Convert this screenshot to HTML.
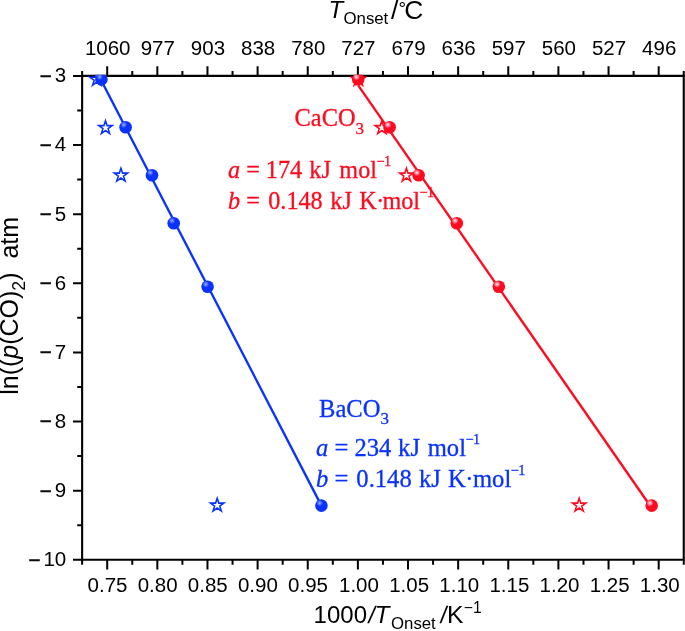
<!DOCTYPE html>
<html lang="en"><head><meta charset="utf-8"><title>Onset temperature chart</title>
<style>
html,body{margin:0;padding:0;background:#fff;}
body{width:685px;height:631px;overflow:hidden;}
svg{display:block;}
text{font-family:"Liberation Sans", Arial, Helvetica, sans-serif;fill:#000;white-space:pre;}
.tk{font-size:20.5px;}
.ti{font-size:24px;}
.sb{font-size:16.8px;}
.ser{font-family:"Liberation Serif", "Times New Roman", serif;font-size:24.6px;}
.it{font-style:italic;}
.r{font-size:24.2px;fill:#ff0a1e;stroke:#ff0a1e;stroke-width:0.3px;}
.b{fill:#0a32ff;stroke:#0a32ff;stroke-width:0.3px;}
</style></head><body>
<svg width="685" height="631" viewBox="0 0 685 631">
<defs>
<radialGradient id="gb" cx="0.36" cy="0.3" r="0.26"><stop offset="0" stop-color="#9fb0ff"/><stop offset="0.5" stop-color="#5570ff"/><stop offset="1" stop-color="#0a32ff"/></radialGradient>
<radialGradient id="gr" cx="0.36" cy="0.3" r="0.28"><stop offset="0" stop-color="#fff0f4"/><stop offset="0.45" stop-color="#ff8fa5"/><stop offset="1" stop-color="#ff0a1e"/></radialGradient>
<clipPath id="cp"><rect x="81.13" y="74.85" width="603.62" height="486.01"/></clipPath>
</defs>
<rect width="685" height="631" fill="#fff"/>

<path d="M82.13,74.90 V560.81 M683.75,74.90 V560.81 M81.13,75.90 H684.75 M81.13,559.81 H684.75" fill="none" stroke="#000" stroke-width="2.1"/>
<path d="M107.20,75.90 v-9.7 M107.20,559.81 v9.7 M157.34,75.90 v-9.7 M157.34,559.81 v9.7 M207.47,75.90 v-9.7 M207.47,559.81 v9.7 M257.61,75.90 v-9.7 M257.61,559.81 v9.7 M307.74,75.90 v-9.7 M307.74,559.81 v9.7 M357.88,75.90 v-9.7 M357.88,559.81 v9.7 M408.01,75.90 v-9.7 M408.01,559.81 v9.7 M458.15,75.90 v-9.7 M458.15,559.81 v9.7 M508.28,75.90 v-9.7 M508.28,559.81 v9.7 M558.41,75.90 v-9.7 M558.41,559.81 v9.7 M608.55,75.90 v-9.7 M608.55,559.81 v9.7 M658.69,75.90 v-9.7 M658.69,559.81 v9.7 M82.13,75.90 v-4.9 M82.13,559.81 v4.9 M132.27,75.90 v-4.9 M132.27,559.81 v4.9 M182.40,75.90 v-4.9 M182.40,559.81 v4.9 M232.54,75.90 v-4.9 M232.54,559.81 v4.9 M282.67,75.90 v-4.9 M282.67,559.81 v4.9 M332.81,75.90 v-4.9 M332.81,559.81 v4.9 M382.94,75.90 v-4.9 M382.94,559.81 v4.9 M433.08,75.90 v-4.9 M433.08,559.81 v4.9 M483.21,75.90 v-4.9 M483.21,559.81 v4.9 M533.35,75.90 v-4.9 M533.35,559.81 v4.9 M583.48,75.90 v-4.9 M583.48,559.81 v4.9 M633.62,75.90 v-4.9 M633.62,559.81 v4.9 M683.75,75.90 v-4.9 M683.75,559.81 v4.9 M82.13,75.90 h-9.1 M82.13,110.47 h-4.9 M82.13,145.03 h-9.1 M82.13,179.59 h-4.9 M82.13,214.16 h-9.1 M82.13,248.72 h-4.9 M82.13,283.29 h-9.1 M82.13,317.86 h-4.9 M82.13,352.42 h-9.1 M82.13,386.99 h-4.9 M82.13,421.55 h-9.1 M82.13,456.12 h-4.9 M82.13,490.68 h-9.1 M82.13,525.25 h-4.9 M82.13,559.81 h-9.1" fill="none" stroke="#000" stroke-width="2"/>
<g clip-path="url(#cp)">
<polygon points="96.77,72.40 98.37,77.31 103.52,77.31 99.35,80.34 100.95,85.24 96.77,82.21 92.60,85.24 94.19,80.34 90.02,77.31 95.18,77.31" fill="#fff" stroke="#0a32ff" stroke-width="1.55" stroke-linejoin="miter"/>
<polygon points="105.50,120.70 107.09,125.61 112.25,125.61 108.07,128.64 109.67,133.54 105.50,130.51 101.32,133.54 102.92,128.64 98.74,125.61 103.90,125.61" fill="#fff" stroke="#0a32ff" stroke-width="1.55" stroke-linejoin="miter"/>
<polygon points="120.94,168.20 122.53,173.11 127.69,173.11 123.52,176.14 125.11,181.04 120.94,178.01 116.76,181.04 118.36,176.14 114.18,173.11 119.34,173.11" fill="#fff" stroke="#0a32ff" stroke-width="1.55" stroke-linejoin="miter"/>
<polygon points="217.20,498.20 218.79,503.11 223.95,503.11 219.78,506.14 221.37,511.04 217.20,508.01 213.02,511.04 214.62,506.14 210.44,503.11 215.60,503.11" fill="#fff" stroke="#0a32ff" stroke-width="1.55" stroke-linejoin="miter"/>
<polygon points="358.38,72.40 359.97,77.31 365.13,77.31 360.96,80.34 362.55,85.24 358.38,82.21 354.20,85.24 355.80,80.34 351.62,77.31 356.78,77.31" fill="#fff" stroke="#ff0a1e" stroke-width="1.55" stroke-linejoin="miter"/>
<polygon points="381.84,120.70 383.43,125.61 388.59,125.61 384.42,128.64 386.01,133.54 381.84,130.51 377.67,133.54 379.26,128.64 375.09,125.61 380.25,125.61" fill="#fff" stroke="#ff0a1e" stroke-width="1.55" stroke-linejoin="miter"/>
<polygon points="406.41,168.20 408.00,173.11 413.16,173.11 408.99,176.14 410.58,181.04 406.41,178.01 402.23,181.04 403.83,176.14 399.65,173.11 404.81,173.11" fill="#fff" stroke="#ff0a1e" stroke-width="1.55" stroke-linejoin="miter"/>
<polygon points="579.17,498.20 580.77,503.11 585.92,503.11 581.75,506.14 583.34,511.04 579.17,508.01 575.00,511.04 576.59,506.14 572.42,503.11 577.58,503.11" fill="#fff" stroke="#ff0a1e" stroke-width="1.55" stroke-linejoin="miter"/>
<line x1="101.40" y1="80.76" x2="321.40" y2="505.59" stroke="#0a32ff" stroke-width="2.35"/>
<line x1="358.20" y1="85.40" x2="651.70" y2="508.01" stroke="#ff0a1e" stroke-width="2.35"/>
<circle cx="101.40" cy="79.40" r="6.3" fill="url(#gb)"/>
<circle cx="125.60" cy="127.30" r="6.3" fill="url(#gb)"/>
<circle cx="152.00" cy="175.20" r="6.3" fill="url(#gb)"/>
<circle cx="173.70" cy="223.20" r="6.3" fill="url(#gb)"/>
<circle cx="207.60" cy="286.70" r="6.3" fill="url(#gb)"/>
<circle cx="321.40" cy="505.60" r="6.3" fill="url(#gb)"/>
<circle cx="358.20" cy="79.40" r="6.3" fill="url(#gr)"/>
<circle cx="389.60" cy="127.30" r="6.3" fill="url(#gr)"/>
<circle cx="418.60" cy="175.20" r="6.3" fill="url(#gr)"/>
<circle cx="456.80" cy="223.20" r="6.3" fill="url(#gr)"/>
<circle cx="498.80" cy="286.70" r="6.3" fill="url(#gr)"/>
<circle cx="651.70" cy="505.60" r="6.3" fill="url(#gr)"/>
</g>
<text class="tk" x="107.70" y="55.3" text-anchor="middle">1060</text>
<text class="tk" x="107.50" y="591.5" text-anchor="middle">0.75</text>
<text class="tk" x="157.84" y="55.3" text-anchor="middle">977</text>
<text class="tk" x="157.64" y="591.5" text-anchor="middle">0.80</text>
<text class="tk" x="207.97" y="55.3" text-anchor="middle">903</text>
<text class="tk" x="207.77" y="591.5" text-anchor="middle">0.85</text>
<text class="tk" x="258.11" y="55.3" text-anchor="middle">838</text>
<text class="tk" x="257.91" y="591.5" text-anchor="middle">0.90</text>
<text class="tk" x="308.24" y="55.3" text-anchor="middle">780</text>
<text class="tk" x="308.04" y="591.5" text-anchor="middle">0.95</text>
<text class="tk" x="358.38" y="55.3" text-anchor="middle">727</text>
<text class="tk" x="358.98" y="591.5" text-anchor="middle">1.00</text>
<text class="tk" x="408.51" y="55.3" text-anchor="middle">679</text>
<text class="tk" x="409.11" y="591.5" text-anchor="middle">1.05</text>
<text class="tk" x="458.65" y="55.3" text-anchor="middle">636</text>
<text class="tk" x="459.25" y="591.5" text-anchor="middle">1.10</text>
<text class="tk" x="508.78" y="55.3" text-anchor="middle">597</text>
<text class="tk" x="509.38" y="591.5" text-anchor="middle">1.15</text>
<text class="tk" x="558.91" y="55.3" text-anchor="middle">560</text>
<text class="tk" x="559.51" y="591.5" text-anchor="middle">1.20</text>
<text class="tk" x="609.05" y="55.3" text-anchor="middle">527</text>
<text class="tk" x="609.65" y="591.5" text-anchor="middle">1.25</text>
<text class="tk" x="659.19" y="55.3" text-anchor="middle">496</text>
<text class="tk" x="659.79" y="591.5" text-anchor="middle">1.30</text>
<text class="tk" x="66.2" y="82.80" text-anchor="end"><tspan letter-spacing="3" stroke="#000" stroke-width="0.5">−</tspan><tspan dy="-0.5">3</tspan></text>
<text class="tk" x="66.2" y="151.93" text-anchor="end"><tspan letter-spacing="3" stroke="#000" stroke-width="0.5">−</tspan><tspan dy="-0.5">4</tspan></text>
<text class="tk" x="66.2" y="221.06" text-anchor="end"><tspan letter-spacing="3" stroke="#000" stroke-width="0.5">−</tspan><tspan dy="-0.5">5</tspan></text>
<text class="tk" x="66.2" y="290.19" text-anchor="end"><tspan letter-spacing="3" stroke="#000" stroke-width="0.5">−</tspan><tspan dy="-0.5">6</tspan></text>
<text class="tk" x="66.2" y="359.32" text-anchor="end"><tspan letter-spacing="3" stroke="#000" stroke-width="0.5">−</tspan><tspan dy="-0.5">7</tspan></text>
<text class="tk" x="66.2" y="428.45" text-anchor="end"><tspan letter-spacing="3" stroke="#000" stroke-width="0.5">−</tspan><tspan dy="-0.5">8</tspan></text>
<text class="tk" x="66.2" y="497.58" text-anchor="end"><tspan letter-spacing="3" stroke="#000" stroke-width="0.5">−</tspan><tspan dy="-0.5">9</tspan></text>
<text class="tk" x="66.2" y="566.71" text-anchor="end"><tspan letter-spacing="3" stroke="#000" stroke-width="0.5">−</tspan><tspan dy="-0.5">10</tspan></text>
<text class="ti" y="17.8"><tspan class="it" x="328.5">T</tspan><tspan class="sb" x="343.5" dy="6.3">Onset</tspan><tspan x="390.9" dy="-5.3" font-size="26.5">/</tspan><tspan x="398.5" font-size="19" dy="-4.2">°</tspan><tspan x="404.3" dy="4.4" font-size="26.4">C</tspan></text>
<text class="ti" y="622.7"><tspan x="313.6">1000</tspan><tspan class="it" x="374.8">T</tspan><tspan class="sb" x="391" dy="6.3">Onset</tspan><tspan x="447" dy="-6.3" font-size="24.6">K</tspan><tspan x="463.8" font-size="15.6" dy="-9.6">−1</tspan></text>
<text class="ti" transform="translate(367.3,622.7) skewX(-10)">/</text>
<text class="ti" transform="translate(439.6,622.9) skewX(-7)">/</text>
<text font-size="25" transform="translate(18.1,394.8) rotate(-90)">ln((<tspan class="it">p</tspan>(CO)<tspan font-size="17.7" dy="7.2">2</tspan><tspan dy="-7.2">)  atm</tspan></text>
<text class="ser r" x="294.6" y="126.4" style="font-size:24.4px">CaCO<tspan font-size="17" dy="7.2">3</tspan></text>
<text class="ser r" x="228" y="177.6"><tspan class="it">a</tspan> = 174 <tspan dx="1.2">kJ</tspan> <tspan dx="2.4">mol</tspan><tspan font-size="14.2" dy="-12" dx="-0.5" letter-spacing="-0.4">−1</tspan></text>
<text class="ser r" x="228" y="208.8"><tspan class="it">b</tspan> = <tspan dx="2.4">0.148</tspan> <tspan dx="1.6">kJ</tspan> <tspan dx="1.4">K</tspan><tspan dx="-0.4">·</tspan><tspan dx="-2.0">mol</tspan><tspan font-size="14.2" dy="-12" dx="-0.6" letter-spacing="-0.4">−1</tspan></text>
<text class="ser b" x="319" y="416.5">BaCO<tspan font-size="17" dy="7.2">3</tspan></text>
<text class="ser b" x="316" y="456"><tspan class="it">a</tspan> = 234 <tspan dx="0.6">kJ</tspan> <tspan dx="1.6">mol</tspan><tspan font-size="14.2" dy="-12" dx="-0.5" letter-spacing="-0.4">−1</tspan></text>
<text class="ser b" x="316" y="486.7"><tspan class="it">b</tspan> = <tspan dx="1.9">0.148</tspan> <tspan dx="1.1">kJ</tspan> <tspan dx="0.9">K</tspan><tspan dx="-0.4">·</tspan><tspan dx="-0.5">mol</tspan><tspan font-size="14.2" dy="-12" dx="-0.6" letter-spacing="-0.4">−1</tspan></text>
</svg></body></html>
